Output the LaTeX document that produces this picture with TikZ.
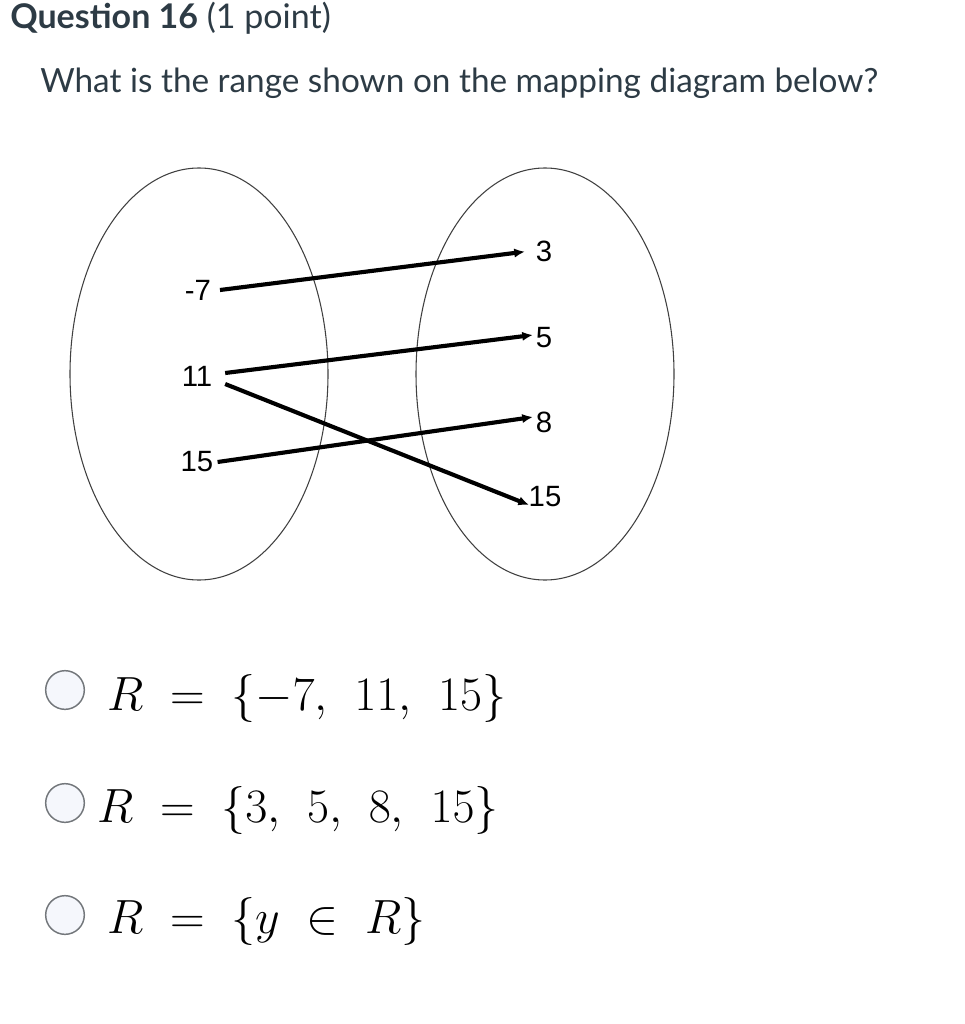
\RequirePackage{fix-cm}
\documentclass[tikz,border=0pt]{standalone}
\usepackage{fontspec}
\newfontfamily\latofont{Lato}
\newfontfamily\diagfont{Liberation Sans}
\usetikzlibrary{arrows.meta, positioning, shapes.geometric}
\definecolor{inktext}{HTML}{2D3B45}
\definecolor{radioedge}{HTML}{73777B}
\definecolor{radiofill}{HTML}{F5F7FC}
\newcommand{\gap}{\mskip7mu}

\begin{document}
\begin{tikzpicture}[x=0.75pt, y=-0.75pt, arro/.style = {-{Latex[length=8pt,width=7pt]}, line width=3.1pt}]

\tikzstyle{setoval} = [draw=black!75, line width=0.8pt, ellipse, minimum width=193.5pt, minimum height=309pt, inner sep=0pt]
\tikzstyle{elem} = [font=\diagfont\fontsize{22}{26}\selectfont, inner sep=0pt]
\tikzstyle{radio} = [draw=radioedge, fill=radiofill, line width=1.1pt, circle, minimum size=29pt, inner sep=0pt]
\tikzstyle{choice} = [anchor=base west, inner sep=0pt, font=\fontsize{36}{40}\selectfont]
\tikzstyle{heading} = [anchor=base west, inner sep=0pt, text=inktext]

\useasboundingbox (0,0) rectangle (964,1024);

% heading
\node[heading, font=\latofont\fontsize{25.5}{30}\selectfont] at (10,29) (title) {\textbf{Question 16} (1 point)};
\node[heading, font=\latofont\fontsize{25}{30}\selectfont] at (40,93) (ask) {What is the range shown on the mapping diagram below?};
% sets
\node[setoval] at (199,374) (domain) {};
\node[setoval] at (545,374) (range) {};
% inputs
\node[elem] at (198,290) (m7) {-7};
\node[elem] at (197,376) (n11) {11};
\node[elem] at (197,462) (n15) {15};
% outputs
\node[elem] at (544,251) (r3) {3};
\node[elem] at (544,338) (r5) {5};
\node[elem] at (544,422) (r8) {8};
\node[elem] at (545,497) (r15) {15};
% connections
\draw[arro] ([xshift=6.5pt]m7.east) -- ([xshift=-8pt,yshift=-0.5pt]r3.west);
\draw[arro] ([xshift=9.5pt,yshift=2.25pt]n11.east) -- ([xshift=-2pt,yshift=2.25pt]r5.west);
\draw[arro] ([xshift=9.5pt,yshift=-6pt]n11.east) -- ([xshift=0.5pt,yshift=-6pt]r15.west);
\draw[arro] ([xshift=3pt]n15.east) -- ([xshift=-2pt,yshift=3.75pt]r8.west);
% choices
\node[radio] at (65,690) (opt1) {};
\node[radio] at (65,803) (opt2) {};
\node[radio] at (65,915) (opt3) {};
\node[choice] at (107,710) (ans1) {$R\;=\;\{-7,\gap 11,\gap 15\}$};
\node[choice] at (97,822) (ans2) {$R\;=\;\{3,\gap 5,\gap 8,\gap 15\}$};
\node[choice] at (107,933) (ans3) {$R\;=\;\{y\;\in\;R\}$};
\end{tikzpicture}
\end{document}
